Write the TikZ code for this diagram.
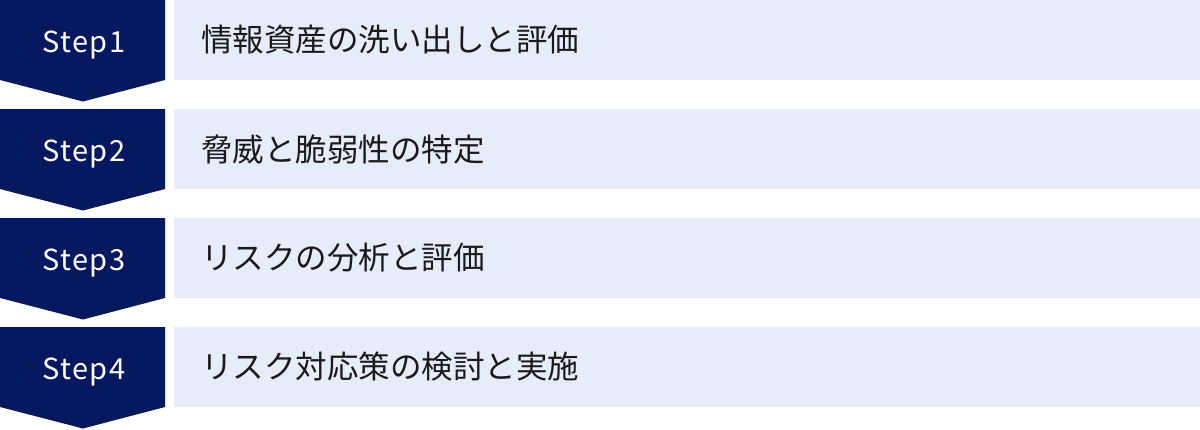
\documentclass[tikz,border=0pt]{standalone}
\usepackage{fontspec}
\setmainfont{Noto Sans CJK JP}
\newfontfamily\stepfont[LetterSpace=5]{Noto Sans CJK JP}
\definecolor{navy}{RGB}{5,24,96}
\definecolor{lightbox}{RGB}{230,236,249}
\definecolor{txt}{RGB}{26,26,26}
\begin{document}
\begin{tikzpicture}[x=1pt,y=-1pt,
  chevron/.style={fill=navy,draw=none},
  stepbox/.style={fill=lightbox,draw=none},
  steplabel/.style={text=white,font=\stepfont\fontsize{29}{32}\selectfont,inner sep=0pt,anchor=base},
  boxlabel/.style={text=txt,font=\fontsize{31.5}{36}\selectfont,inner sep=0pt,anchor=west}]
\useasboundingbox (0,0) rectangle (1200,429);
\foreach \i/\t in {0/情報資産の洗い出しと評価,1/脅威と脆弱性の特定,2/リスクの分析と評価,3/リスク対応策の検討と実施}{
  \pgfmathsetmacro{\y}{\i*109}
  \pgfmathtruncatemacro{\n}{\i+1}
  \fill[chevron] (0,\y) -- (165,\y) -- (165,\y+80) -- (83,\y+101.5) -- (0,\y+80) -- cycle;
  \fill[stepbox] (174,\y) rectangle (1200,\y+80);
  \node[steplabel] (s\n) at (84,\y+52) {Step\n};
  \node[boxlabel] (t\n) at (201,\y+40) {\t};
}
\end{tikzpicture}
\end{document}
